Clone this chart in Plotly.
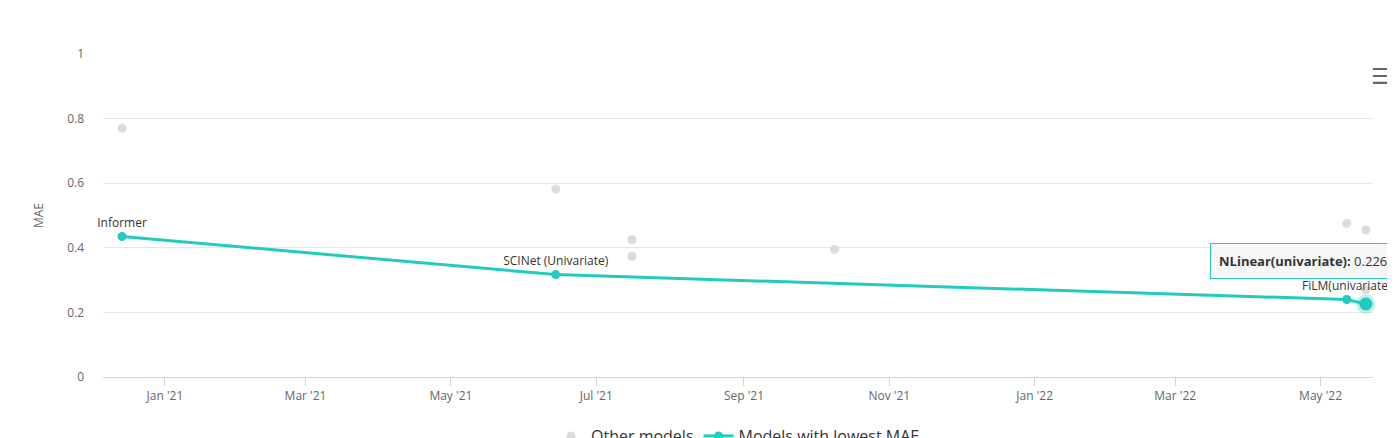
import plotly.graph_objects as go

# other models (grey scatter)
other_dates = ["2020-12-14", "2021-06-14", "2021-07-16", "2021-07-16", "2021-10-09",
               "2022-05-12", "2022-05-20", "2022-05-20"]
other_mae = [0.77, 0.582, 0.425, 0.373, 0.395, 0.475, 0.455, 0.27]

# models with lowest MAE (line)
best_dates = ["2020-12-14", "2021-06-14", "2022-05-12", "2022-05-20"]
best_mae = [0.435, 0.317, 0.24, 0.226]
best_names = ["Informer", "SCINet (Univariate)", "FiLM(univariate)", ""]

tick_vals = ["2021-01-01", "2021-03-01", "2021-05-01", "2021-07-01", "2021-09-01",
             "2021-11-01", "2022-01-01", "2022-03-01", "2022-05-01"]
tick_text = ["Jan '21", "Mar '21", "May '21", "Jul '21", "Sep '21",
             "Nov '21", "Jan '22", "Mar '22", "May '22"]

fig = go.Figure()
fig.add_trace(go.Scatter(x=other_dates, y=other_mae, mode="markers", name="Other models",
                         marker=dict(color="#dcdcdc", size=9), cliponaxis=False))
fig.add_trace(go.Scatter(x=best_dates, y=best_mae, mode="lines+markers+text",
                         name="Models with lowest MAE", text=best_names,
                         textposition="top center", cliponaxis=False,
                         textfont=dict(size=12, color="#333333"),
                         line=dict(color="#21cbc0", width=3),
                         marker=dict(color="#21cbc0", size=9)))
# hovered point highlight
fig.add_trace(go.Scatter(x=best_dates[-1:], y=best_mae[-1:], mode="markers", showlegend=False,
                         cliponaxis=False,
                         marker=dict(color="#21cbc0", size=13,
                                     line=dict(color="rgba(33,203,192,0.3)", width=6))))

fig.add_annotation(x=best_dates[-1], y=0.36, xref="x", yref="y",
                   text="<b>NLinear(univariate):</b> 0.226", showarrow=False,
                   xanchor="right", xshift=30,
                   bgcolor="rgba(247,247,247,0.95)", bordercolor="#21cbc0", borderwidth=1,
                   borderpad=8, font=dict(size=13, color="#333333"))
fig.add_annotation(x=1.0, y=1.0, xref="paper", yref="paper", text="☰", showarrow=False,
                   xanchor="right", yanchor="top", xshift=20, yshift=-4,
                   font=dict(size=22, color="#666666"))

fig.update_layout(
    width=1395, height=438,
    margin=dict(l=95, r=30, t=46, b=69, autoexpand=False),
    plot_bgcolor="white", paper_bgcolor="white",
    font=dict(family="Open Sans, DejaVu Sans", size=12, color="#333333"),
    xaxis=dict(range=["2020-12-06", "2022-05-23"], tickvals=tick_vals, ticktext=tick_text,
               showgrid=False, showline=True, linecolor="#ccd6eb", ticks="outside",
               tickcolor="#ccd6eb", ticklen=8, tickfont=dict(color="#666666", size=12)),
    yaxis=dict(range=[0, 1], dtick=0.2, gridcolor="#e6e6e6", zeroline=False,
               ticklabelstandoff=18,
               title=dict(text="MAE", font=dict(color="#666666", size=12), standoff=20),
               tickfont=dict(color="#666666", size=12)),
    legend=dict(orientation="h", x=0.5, xanchor="center", y=-0.13, yanchor="top",
                font=dict(size=16, color="#333333")),
)

fig.write_html("out.html")
